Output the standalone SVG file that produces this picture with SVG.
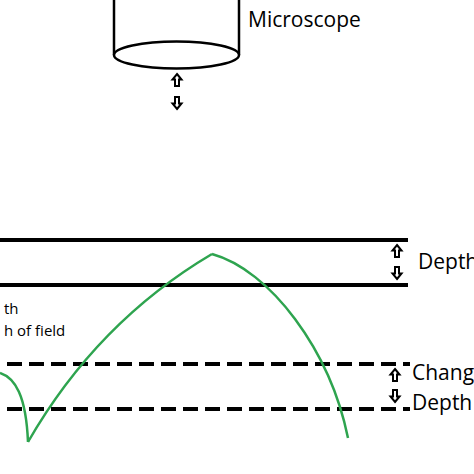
<svg xmlns="http://www.w3.org/2000/svg" width="474" height="474" viewBox="0 0 474 474">
<defs>
<style>
.txt{font-family:"Open Sans","Liberation Sans",sans-serif;fill:#000}
.big{font-size:21px}
.small{font-size:15px}
.solid{stroke:#000;stroke-width:4;fill:none}
.dash{stroke:#000;stroke-width:4;fill:none;stroke-dasharray:15 7}
.arrow{fill:#fff;stroke:#000;stroke-width:2;stroke-linejoin:miter}
.curve{fill:none;stroke:#2ea44f;stroke-width:2.5}
</style>
<path id="up" class="arrow" d="M0,0 L4.5,5.5 L2,5.5 L2,12 L-2,12 L-2,5.5 L-4.5,5.5 Z"/>
<path id="down" class="arrow" d="M0,12 L4.5,6.5 L2,6.5 L2,0 L-2,0 L-2,6.5 L-4.5,6.5 Z"/>
</defs>
<rect width="474" height="474" fill="#fff"/>
<g id="microscope">
<line x1="114" y1="0" x2="114" y2="55" stroke="#000" stroke-width="2.5"/>
<line x1="239" y1="0" x2="239" y2="55" stroke="#000" stroke-width="2.5"/>
<ellipse cx="176.5" cy="55" rx="62.5" ry="13.5" fill="#fff" stroke="#000" stroke-width="2.5"/>
<text class="txt big" x="248" y="27">Microscope</text>
<use href="#up" x="177" y="74"/>
<use href="#down" x="177" y="97"/>
</g>
<g id="depth-of-field">
<line class="solid" x1="0" y1="240" x2="408" y2="240"/>
<line class="solid" x1="0" y1="285" x2="408" y2="285"/>
<use href="#up" x="397" y="245"/>
<use href="#down" x="397" y="267"/>
<text class="txt big" x="418" y="269">Depth</text>
</g>
<g id="changed-depth">
<line class="dash" x1="7" y1="364" x2="410" y2="364"/>
<line class="dash" x1="7" y1="409" x2="410" y2="409"/>
<use href="#up" x="395" y="369"/>
<use href="#down" x="395" y="390"/>
<text class="txt big" x="412" y="380">Chang</text>
<text class="txt big" x="412" y="410">Depth</text>
</g>
<g id="left-labels">
<text class="txt small" x="4" y="314">th</text>
<text class="txt small" x="4" y="336">h of field</text>
</g>
<g id="connectors">
<path class="curve" d="M0,373 C15,378 26,395 28,442"/>
<path class="curve" d="M28,442 Q97,322 212,254"/>
<path class="curve" d="M212,254 C270,270 330,350 348,438"/>
</g>
</svg>
